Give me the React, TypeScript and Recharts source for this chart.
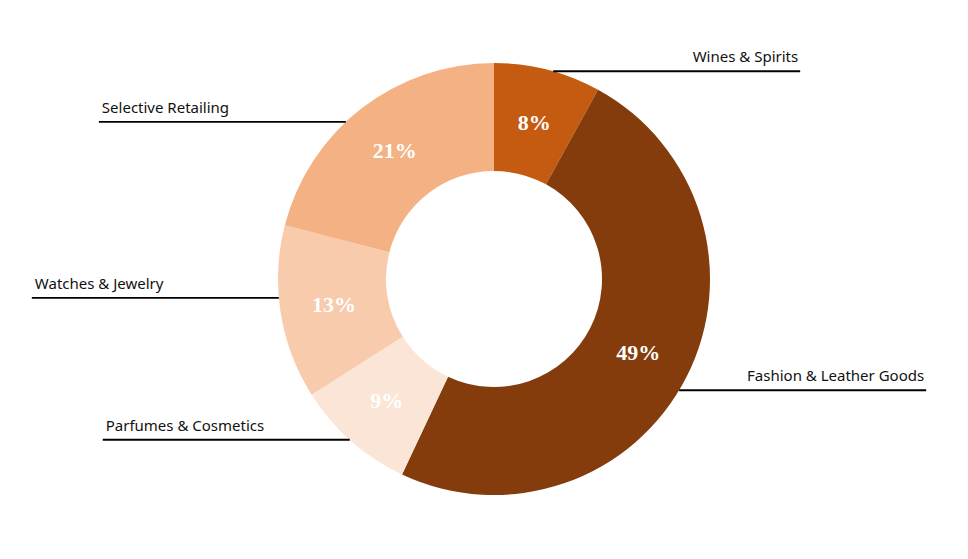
import { PieChart, Pie, Cell } from 'recharts';

const SEGMENTS = [
  'Wines & Spirits',
  'Fashion & Leather Goods',
  'Parfumes & Cosmetics',
  'Watches & Jewelry',
  'Selective Retailing',
];
const SHARES = [8, 49, 9, 13, 21];

const COLORS = ['#C55A11', '#843C0C', '#FBE5D6', '#F8CBAD', '#F4B183'];

// small clockwise shifts (degrees) of where each leader line meets the ring
const LEADER_SHIFT = [1.5, 4, 0.5, 4, -5.5];
const LEADER_LENGTH = 247;

const RADIAN = Math.PI / 180;

const data = SEGMENTS.map((name, i) => ({ name, value: SHARES[i] }));

function SliceLabel(props: any) {
  const { cx, cy, midAngle, innerRadius, outerRadius, index, name, value } = props;

  const midR = (innerRadius + outerRadius) / 2;
  const px = cx + midR * Math.cos(-midAngle * RADIAN);
  const py = cy + midR * Math.sin(-midAngle * RADIAN);

  const a = midAngle - (LEADER_SHIFT[index] || 0);
  const ax = cx + outerRadius * Math.cos(-a * RADIAN);
  const ay = cy + outerRadius * Math.sin(-a * RADIAN);
  const right = Math.cos(-a * RADIAN) >= 0;
  const ex = right ? ax + LEADER_LENGTH : ax - LEADER_LENGTH;

  return (
    <g>
      <text
        x={px}
        y={py}
        fill="#fff"
        textAnchor="middle"
        dominantBaseline="central"
        style={{ fontFamily: '"Liberation Serif", serif', fontWeight: 700, fontSize: 22 }}
      >
        {`${value}%`}
      </text>
      <line x1={ax} y1={ay} x2={ex} y2={ay} stroke="#000" strokeWidth={1.8} />
      <text
        x={right ? ex - 2 : ex + 3}
        y={ay - 9}
        fill="#111"
        textAnchor={right ? 'end' : 'start'}
        style={{ fontFamily: '"Noto Sans", sans-serif', fontSize: 15 }}
      >
        {name}
      </text>
    </g>
  );
}

export default function App() {
  return (
    <div style={{ position: 'absolute', left: 0, top: 0, background: '#fff' }}>
      <PieChart width={968} height={559} margin={{ top: 0, right: 0, bottom: 0, left: 0 }}>
        <Pie
          data={data}
          dataKey="value"
          nameKey="name"
          cx={494}
          cy={279}
          innerRadius={108}
          outerRadius={216}
          startAngle={90}
          endAngle={-270}
          stroke="none"
          labelLine={false}
          label={SliceLabel}
          isAnimationActive={false}
        >
          {data.map((entry, index) => (
            <Cell key={`cell-${entry.name}`} fill={COLORS[index]} />
          ))}
        </Pie>
      </PieChart>
    </div>
  );
}
